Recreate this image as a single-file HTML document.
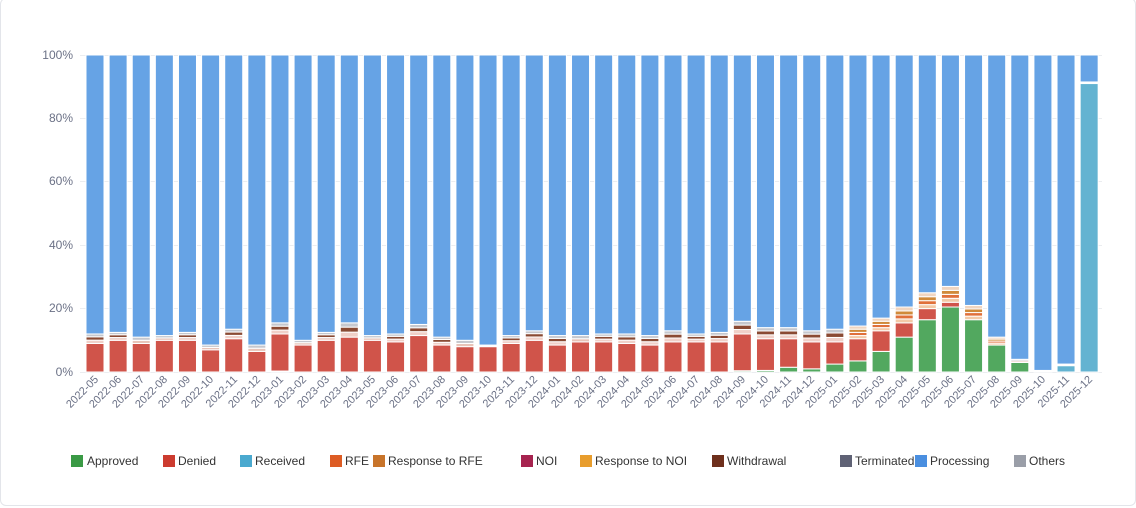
<!DOCTYPE html>
<html><head><meta charset="utf-8"><style>
body{margin:0;background:#fff;width:1136px;height:508px;overflow:hidden;font-family:"Liberation Sans",sans-serif}
.card{position:absolute;left:0;top:-2px;width:1134px;height:506px;border:1px solid #e3e5ea;border-radius:6px}
</style></head><body><div class="card"></div>
<svg width="1136" height="508" style="position:absolute;left:0;top:0" font-family="Liberation Sans, sans-serif">
<g stroke="#ebedf0" stroke-width="1">
<line x1="80" x2="1102" y1="55.5" y2="55.5"/><line x1="80" x2="1102" y1="118.5" y2="118.5"/><line x1="80" x2="1102" y1="181.5" y2="181.5"/><line x1="80" x2="1102" y1="245.5" y2="245.5"/><line x1="80" x2="1102" y1="308.5" y2="308.5"/><line x1="80" x2="1102" y1="372.5" y2="372.5"/>
</g>
<g font-size="12" fill="#6b7186" text-anchor="end">
<text x="73" y="59">100%</text><text x="73" y="122">80%</text><text x="73" y="185">60%</text><text x="73" y="249">40%</text><text x="73" y="312">20%</text><text x="73" y="376">0%</text>
</g>
<g id="bars"></g>
<g id="labs" font-size="11" fill="#6b7186" text-anchor="end">
<text transform="translate(99,380) rotate(-45)">2022-05</text><text transform="translate(122,380) rotate(-45)">2022-06</text><text transform="translate(145,380) rotate(-45)">2022-07</text><text transform="translate(168,380) rotate(-45)">2022-08</text><text transform="translate(191,380) rotate(-45)">2022-09</text><text transform="translate(214,380) rotate(-45)">2022-10</text><text transform="translate(238,380) rotate(-45)">2022-11</text><text transform="translate(261,380) rotate(-45)">2022-12</text><text transform="translate(284,380) rotate(-45)">2023-01</text><text transform="translate(307,380) rotate(-45)">2023-02</text><text transform="translate(330,380) rotate(-45)">2023-03</text><text transform="translate(353,380) rotate(-45)">2023-04</text><text transform="translate(376,380) rotate(-45)">2023-05</text><text transform="translate(399,380) rotate(-45)">2023-06</text><text transform="translate(422,380) rotate(-45)">2023-07</text><text transform="translate(446,380) rotate(-45)">2023-08</text><text transform="translate(469,380) rotate(-45)">2023-09</text><text transform="translate(492,380) rotate(-45)">2023-10</text><text transform="translate(515,380) rotate(-45)">2023-11</text><text transform="translate(538,380) rotate(-45)">2023-12</text><text transform="translate(561,380) rotate(-45)">2024-01</text><text transform="translate(584,380) rotate(-45)">2024-02</text><text transform="translate(607,380) rotate(-45)">2024-03</text><text transform="translate(630,380) rotate(-45)">2024-04</text><text transform="translate(654,380) rotate(-45)">2024-05</text><text transform="translate(677,380) rotate(-45)">2024-06</text><text transform="translate(700,380) rotate(-45)">2024-07</text><text transform="translate(723,380) rotate(-45)">2024-08</text><text transform="translate(746,380) rotate(-45)">2024-09</text><text transform="translate(769,380) rotate(-45)">2024-10</text><text transform="translate(792,380) rotate(-45)">2024-11</text><text transform="translate(815,380) rotate(-45)">2024-12</text><text transform="translate(838,380) rotate(-45)">2025-01</text><text transform="translate(862,380) rotate(-45)">2025-02</text><text transform="translate(885,380) rotate(-45)">2025-03</text><text transform="translate(908,380) rotate(-45)">2025-04</text><text transform="translate(931,380) rotate(-45)">2025-05</text><text transform="translate(954,380) rotate(-45)">2025-06</text><text transform="translate(977,380) rotate(-45)">2025-07</text><text transform="translate(1000,380) rotate(-45)">2025-08</text><text transform="translate(1023,380) rotate(-45)">2025-09</text><text transform="translate(1046,380) rotate(-45)">2025-10</text><text transform="translate(1070,380) rotate(-45)">2025-11</text><text transform="translate(1093,380) rotate(-45)">2025-12</text>
</g>
<g font-size="12" fill="#333">
<rect x="71" y="455" width="12" height="12" fill="#3a9a45"/><text x="87" y="465">Approved</text>
<rect x="163" y="455" width="12" height="12" fill="#cc3b2f"/><text x="178" y="465">Denied</text>
<rect x="240" y="455" width="12" height="12" fill="#4aa9cf"/><text x="255" y="465">Received</text>
<rect x="330" y="455" width="12" height="12" fill="#dd5c24"/><text x="345" y="465">RFE</text>
<rect x="373" y="455" width="12" height="12" fill="#c8742a"/><text x="388" y="465">Response to RFE</text>
<rect x="521" y="455" width="12" height="12" fill="#a6234f"/><text x="536" y="465">NOI</text>
<rect x="580" y="455" width="12" height="12" fill="#e89d2d"/><text x="595" y="465">Response to NOI</text>
<rect x="712" y="455" width="12" height="12" fill="#6e2f1c"/><text x="727" y="465">Withdrawal</text>
<rect x="840" y="455" width="12" height="12" fill="#5f6275"/><text x="855" y="465">Terminated</text>
<rect x="915" y="455" width="12" height="12" fill="#4a8fe0"/><text x="930" y="465">Processing</text>
<rect x="1014" y="455" width="12" height="12" fill="#9a9ea8"/><text x="1029" y="465">Others</text>
</g>
</svg>
<script>
// [approved, received, denied-top, blue-bottom]
var d=[[0,0,9,12],[0,0,10,12.5],[0,0,9,11],[0,0,10,11.5],[0,0,10,12.5],[0,0,7,8.5],[0,0,10.5,13.5],[0,0,6.5,8.5],
[0.3,0,12,15.5],[0,0,8.5,10],[0,0,10,12.5],[0,0,11,15.5],[0,0,10,11.5],[0,0,9.5,12],[0,0,11.5,15],[0,0,8.5,11],[0,0,8,10],[0,0,8,8.5],[0,0,9,11.5],[0,0,10,13],
[0,0,8.5,11.5],[0,0,9.5,11.5],[0,0,9.5,12],[0,0,9,12],[0,0,8.5,11.5],[0,0,9.5,13],[0,0,9.5,12],[0,0,9.5,12.5],[0.4,0,12,16],[0.5,0,10.5,14],[1.5,0,10.5,14],[1,0,9.5,13],
[2.5,0,9.5,13.5],[3.5,0,10.5,14.5],[6.5,0,13,17],[11,0,15.5,20.5],[16.5,0,20,25],[20.5,0,22,27],[16.5,0,16.5,21],[8.5,0,8.5,11],[3,0,3,4],[0,0,0,0.5],[0,2,2,2.5],[0,91,91,91.5]];
var ns="http://www.w3.org/2000/svg",g=document.getElementById("bars");
function Y(p){return 372-p*3.17}
function rect(x,a,b,c){if(b-a<=0)return;var r=document.createElementNS(ns,"rect");r.setAttribute("x",x);r.setAttribute("y",Y(b));r.setAttribute("width",18);r.setAttribute("height",Math.max(Y(a)-Y(b),0.8));r.setAttribute("fill",c);r.setAttribute("stroke","#fff");r.setAttribute("stroke-width","1");g.appendChild(r)}
d.forEach(function(v,i){var x=86+i*23.12;var a=v[0],rc=v[1],dn=v[2],bb=v[3];
rect(x,0,a,"#52a85f");
if(rc>0)rect(x,0,rc,"#63b3d1");
rect(x,Math.max(a,rc),dn,"#d0544a");
var gap=bb-dn;
if(gap>0){
 if(i>=33&&i<=39){var s=gap/4;rect(x,dn,dn+s,"#f3c9a6");rect(x,dn+s,dn+2*s,"#e0703a");rect(x,dn+2*s,dn+3*s,"#d08a3a");rect(x,dn+3*s,bb,"#f0d5c0");}
 else if(gap>=2.5){rect(x,dn,dn+gap*0.35,"#f0d0c8");rect(x,dn+gap*0.35,dn+gap*0.7,"#8a4a33");rect(x,dn+gap*0.7,bb,"#c6c8ce");}
 else {rect(x,dn,dn+gap*0.5,"#e8c4b8");rect(x,dn+gap*0.5,bb,"#c6c8ce");}
}
rect(x,bb,100,"#66a3e5");
});
</script>
</body></html>
